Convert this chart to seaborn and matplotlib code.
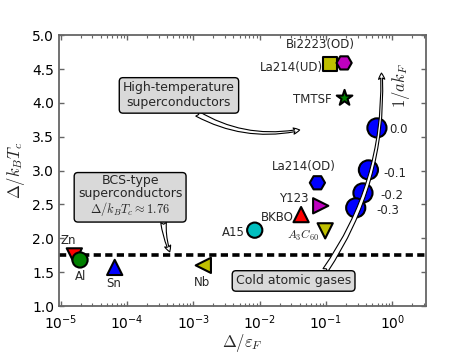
import matplotlib
matplotlib.use("Agg")
import matplotlib.pyplot as plt
import seaborn as sns
import pandas as pd
import numpy as np

# ---------------- data ----------------
names = ["Zn", "Al", "Sn", "Nb", "A15", "BKBO", "Y123", "A3C60",
         "La214(OD)", "La214(UD)", "Bi2223(OD)", "TMTSF",
         "0.0", "-0.1", "-0.2", "-0.3"]
labels = ["Zn", "Al", "Sn", "Nb", "A15", "BKBO", "Y123", r"$A_3C_{60}$",
          "La214(OD)", "La214(UD)", "Bi2223(OD)", "TMTSF",
          "0.0", "-0.1", "-0.2", "-0.3"]
gap_over_ef = [1.6e-5, 1.95e-5, 6.5e-5, 1.41e-3, 8.4e-3, 0.042, 0.083, 0.097,
               0.074, 0.115, 0.187, 0.19,
               0.585, 0.435, 0.36, 0.28]
gap_over_tc = [1.74, 1.68, 1.57, 1.60, 2.12, 2.35, 2.48, 2.11,
               2.82, 4.57, 4.59, 4.07,
               3.63, 3.01, 2.67, 2.45]
bcs_ratio = 1.76
yticks = [1.0, 1.5, 2.0, 2.5, 3.0, 3.5, 4.0, 4.5, 5.0]

# ---------------- styles ----------------
colors = {"Zn": "r", "Al": "g", "Sn": "b", "Nb": "y", "A15": "c", "BKBO": "r",
          "Y123": "m", "A3C60": "y", "La214(OD)": "b", "La214(UD)": "y",
          "Bi2223(OD)": "m", "TMTSF": "g",
          "0.0": "b", "-0.1": "b", "-0.2": "b", "-0.3": "b"}
markers = {"Zn": "v", "Al": "o", "Sn": "^", "Nb": "<", "A15": "o", "BKBO": "^",
           "Y123": ">", "A3C60": "v", "La214(OD)": "H", "La214(UD)": "s",
           "Bi2223(OD)": "H", "TMTSF": "*",
           "0.0": "o", "-0.1": "o", "-0.2": "o", "-0.3": "o"}
sizes = {n: 120 for n in names}
for n in ["0.0", "-0.1", "-0.2", "-0.3"]:
    sizes[n] = 190
sizes["TMTSF"] = 140
sizes["La214(UD)"] = 105
# label offsets (pixels) and alignment
label_pos = {"Zn": (-6, 15, "center"), "Al": (1, -17, "center"),
             "Sn": (-1, -16, "center"), "Nb": (-1, -17, "center"),
             "A15": (-10, -2, "right"), "BKBO": (-7.5, -2.5, "right"),
             "Y123": (-12, 7, "right"), "A3C60": (-6.5, -5, "right"),
             "La214(OD)": (-14, 16.5, "center"), "La214(UD)": (-7.5, -3, "right"),
             "Bi2223(OD)": (-23.5, 18, "center"), "TMTSF": (-13, -1, "right"),
             "0.0": (12.5, -1.5, "left"), "-0.1": (15, -3.5, "left"),
             "-0.2": (17.5, -3, "left"), "-0.3": (20.5, -2.5, "left")}

df = pd.DataFrame({"name": names, "label": labels,
                   "x": gap_over_ef, "y": gap_over_tc})

sns.set_style("ticks")
plt.rcParams["font.family"] = ["DejaVu Sans"]
plt.rcParams["mathtext.fontset"] = "cm"
plt.rcParams["axes.edgecolor"] = "0.4"
plt.rcParams["axes.linewidth"] = 1.3
plt.rcParams["xtick.color"] = "0.4"
plt.rcParams["ytick.color"] = "0.4"
plt.rcParams["xtick.labelcolor"] = "black"
plt.rcParams["ytick.labelcolor"] = "black"

fig = plt.figure(figsize=(4.74, 3.55), dpi=100)
ax = fig.add_axes([0.1245, 0.138, 0.774, 0.763])

ax.axhline(bcs_ratio, color="black", lw=2.6, ls=(0, (2.0, 1.2)), zorder=1)

sns.scatterplot(data=df, x="x", y="y", hue="name", style="name", size="name",
                palette=colors, markers=markers, sizes=sizes,
                edgecolor="black", linewidth=1.5, legend=False, ax=ax, zorder=3)

ax.set_xscale("log")
ax.set_xlim(9.4e-6, 3.2)
ax.set_ylim(1.0, 5.0)
ax.set_yticks(yticks)
ax.set_yticklabels([f"{v:.1f}" for v in yticks])

ax.tick_params(which="both", direction="in", top=True, right=True, labelsize=10)
ax.tick_params(which="major", length=3.5, width=1)
ax.tick_params(which="minor", length=2, width=0.8)
ax.tick_params(axis="x", pad=5)
ax.tick_params(axis="y", pad=3.5)

ax.set_xlabel(r"$\Delta/\varepsilon_F$", fontsize=12, labelpad=0)
ax.set_ylabel(r"$\Delta/k_BT_c$", fontsize=12, labelpad=4)

for n, lab, xv, yv in zip(names, labels, gap_over_ef, gap_over_tc):
    dx, dy, ha = label_pos[n]
    ax.annotate(lab, (xv, yv), xytext=(dx, dy), textcoords="offset pixels",
                ha=ha, va="center", fontsize=8.5, zorder=4)

box = dict(boxstyle="round,pad=0.3", fc="0.85", ec="black", lw=1)
arrow = dict(arrowstyle="fancy,head_length=0.5,head_width=0.5,tail_width=0.45",
             fc="white", ec="black", lw=0.8, shrinkA=0, shrinkB=0)

ax.annotate("High-temperature\nsuperconductors", xy=(0.040, 3.60),
            xytext=(6.05e-4, 4.11), ha="center", va="center", fontsize=9,
            bbox=box, zorder=5,
            arrowprops=dict(arrow, connectionstyle="arc3,rad=0.2", relpos=(0.6, 0.0)))

ax.annotate("BCS-type\nsuperconductors\n" + r"$\Delta/k_BT_c\approx 1.76$",
            xy=(4.4e-4, 1.80), xytext=(1.11e-4, 2.62), ha="center", va="center",
            fontsize=9, bbox=box, zorder=5, linespacing=1.0,
            arrowprops=dict(arrow, connectionstyle="arc3,rad=0.1", relpos=(0.82, 0.0)))

ax.annotate("Cold atomic gases", xy=(0.684, 4.44), xytext=(0.0324, 1.37),
            ha="center", va="center", fontsize=9, bbox=box, zorder=5,
            arrowprops=dict(arrow, connectionstyle="arc3,rad=0.17", relpos=(0.75, 1.0)))

ax.text(1.36, 4.25, r"$1/ak_F$", rotation=90, ha="center", va="center", fontsize=12)

fig.savefig("out.png", dpi=100)
